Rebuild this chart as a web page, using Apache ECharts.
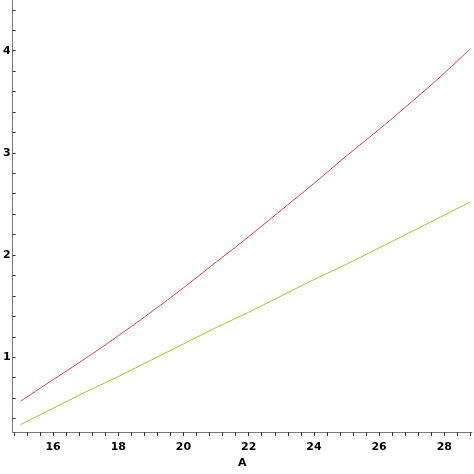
<!DOCTYPE html>
<html>
<head>
<meta charset="utf-8">
<script src="https://cdn.jsdelivr.net/npm/echarts@6/dist/echarts.min.js"></script>
<style>html,body{margin:0;padding:0;background:#fff}#c{width:474px;height:474px}</style>
</head>
<body>
<div id="c"></div>
<script>
var xs = [15, 16, 17, 18, 19, 20, 21, 22, 23, 24, 25, 26, 27, 28, 28.8];
var redVals = [0.57, 0.78, 0.99, 1.21, 1.44, 1.68, 1.93, 2.18, 2.44, 2.70, 2.97, 3.23, 3.50, 3.78, 4.02];
var greenVals = [0.34, 0.50, 0.66, 0.81, 0.97, 1.13, 1.29, 1.44, 1.60, 1.76, 1.91, 2.07, 2.23, 2.39, 2.52];
var xLabels = [16, 18, 20, 22, 24, 26, 28];
var yLabels = [1, 2, 3, 4];

var xTicks = [];
for (var t = 14.8; t < 28.8; t += 0.4) xTicks.push(+t.toFixed(2));
var yTicks = [];
for (var u = 0.4; u < 4.5; u += 0.2) yTicks.push(+u.toFixed(2));

function pairs(v) {
	var out = [];
	for (var i = 0; i < xs.length; i++) out.push([xs[i], v[i]]);
	return out;
}

var chart = echarts.init(document.getElementById('c'));
chart.setOption({
	animation: false,
	grid: { left: 11, right: 2, top: 0, bottom: 30 },
	xAxis: {
		type: 'value', min: 14.76, max: 28.85,
		name: 'A', nameLocation: 'middle', nameGap: 23,
		nameTextStyle: { fontSize: 11, fontWeight: 'bold', fontFamily: 'DejaVu Sans', color: '#000' },
		axisLine: { lineStyle: { color: '#777' } },
		axisTick: { show: true, length: 4, customValues: xTicks, lineStyle: { color: '#333' } },
		axisLabel: { customValues: xLabels, fontSize: 11, fontWeight: 'bold', fontFamily: 'DejaVu Sans', color: '#000', margin: 10 },
		splitLine: { show: false }
	},
	yAxis: {
		type: 'value', min: 0.267, max: 4.496,
		axisLine: { show: true, lineStyle: { color: '#777' } },
		axisTick: { show: true, length: 3, inside: true, customValues: yTicks, lineStyle: { color: '#333' } },
		axisLabel: { customValues: yLabels, fontSize: 11, fontWeight: 'bold', fontFamily: 'DejaVu Sans', color: '#000', margin: 2 },
		splitLine: { show: false }
	},
	series: [
		{ type: 'line', data: pairs(redVals), smooth: true, symbol: 'none', lineStyle: { color: '#d94040', width: 1 } },
		{ type: 'line', data: pairs(greenVals), symbol: 'none', lineStyle: { color: '#a8c040', width: 1 } }
	]
});
</script>
</body>
</html>
